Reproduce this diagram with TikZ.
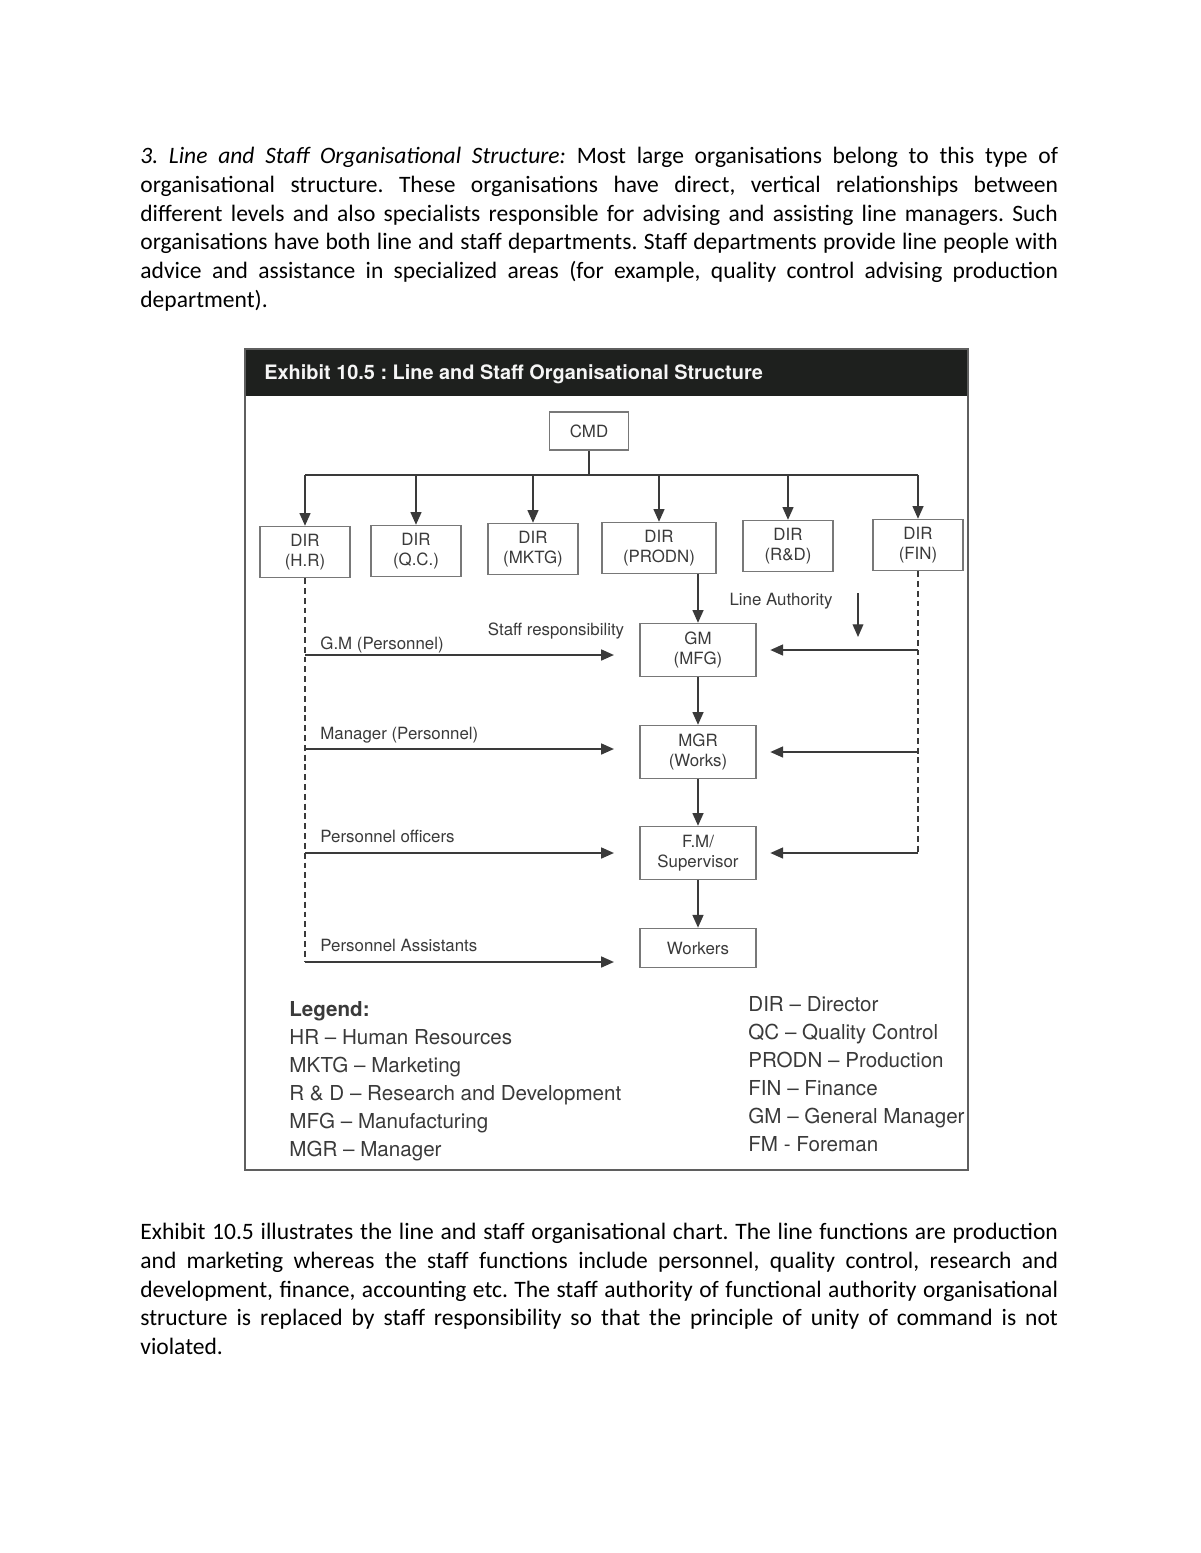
\documentclass[tikz,border=0pt]{standalone}
\usepackage{fontspec}
\setmainfont{Carlito}
\newfontfamily\exfont{TeX Gyre Heros}
\usetikzlibrary{arrows.meta,calc,positioning}
\definecolor{exink}{RGB}{58,58,58}
\definecolor{exedge}{RGB}{120,120,120}
\definecolor{exbar}{RGB}{30,32,30}
\definecolor{exframe}{RGB}{95,95,95}
\frenchspacing

\begin{document}
\begin{tikzpicture}[x=0.51pt, y=-0.51pt,
      org/.style={rectangle, draw=exedge, line width=0.7pt, fill=white, align=center, inner sep=1pt, text=exink, font=\exfont\fontsize{8.6}{10.2}\selectfont},
      dirbox/.style={org, minimum width=46pt, minimum height=26pt},
      chainbox/.style={org, minimum width=59pt, minimum height=27pt},
      lbl/.style={text=exink, inner sep=0pt, font=\exfont\fontsize{8.6}{10}\selectfont},
      legend/.style={anchor=north west, align=left, inner sep=0pt, text=exink, font=\exfont\fontsize{10.5}{14.3}\selectfont},
      para/.style={anchor=north west, text width=468pt, align=justify, inner sep=0pt, font=\fontsize{12}{14.65}\selectfont},
      arr/.style={-{Triangle[length=6.5pt, width=5.5pt]}, line width=1pt, color=exink},
      dashline/.style={dashed, dash pattern=on 3pt off 2pt, line width=0.6pt, color=exink}
    ]
      \useasboundingbox (0,0) rectangle (1200,1553);

      % Text above and below the exhibit
      \node[para] (intro) at (140,147) {\hyphenpenalty=10000\textit{3. Line and Staff Organisational Structure:} Most large organisations belong to this type of\linebreak organisational structure. These organisations have direct, vertical relationships between\linebreak different levels and also specialists responsible for advising and assisting line managers. Such\linebreak organisations have both line and staff departments. Staff departments provide line people with\linebreak advice and assistance in specialized areas (for example, quality control advising production\linebreak department).};
      \node[para] (outro) at (140,1223) {\hyphenpenalty=10000 Exhibit 10.5 illustrates the line and staff organisational chart. The line functions are production\linebreak and marketing whereas the staff functions include personnel, quality control, research and\linebreak development, finance, accounting etc. The staff authority of functional authority organisational\linebreak structure is replaced by staff responsibility so that the principle of unity of command is not\linebreak violated.};

      % Exhibit frame and title bar
      \fill[exbar] (245,349) rectangle (968,396);
      \draw[exframe, line width=1pt] (245,349) rectangle (968,1170);
      \node[anchor=west, inner sep=0pt, text=gray!8, font=\exfont\bfseries\fontsize{10.15}{12}\selectfont] (title) at (264,374) {Exhibit 10.5 : Line and Staff Organisational Structure};

      % Top: CMD and directors
      \node[org, minimum width=40pt, minimum height=19.5pt] (cmd) at (589,431) {CMD};
      \node[dirbox] (hr) at (305,552) {DIR\\(H.R)};
      \node[dirbox] (qc) at (416,551) {DIR\\(Q.C.)};
      \node[dirbox] (mktg) at (533,549) {DIR\\(MKTG)};
      \node[dirbox, minimum width=58pt] (prodn) at (659,548) {DIR\\(PRODN)};
      \node[dirbox] (rd) at (788,546) {DIR\\(R\&D)};
      \node[dirbox] (fin) at (918,545) {DIR\\(FIN)};

      \coordinate (bus) at (589,475);
      \draw[line width=1pt, exink] (cmd.south) -- (bus);
      \draw[line width=1pt, exink] (bus -| hr) -- (bus -| fin);
      \draw[arr] (bus -| hr) -- (hr.north);
      \draw[arr] (bus -| qc) -- (qc.north);
      \draw[arr] (bus -| mktg) -- (mktg.north);
      \draw[arr] (bus -| prodn) -- (prodn.north);
      \draw[arr] (bus -| rd) -- (rd.north);
      \draw[arr] (bus -| fin) -- (fin.north);

      % Centre: line of command
      \node[chainbox] (gm) at (698,650) {GM\\(MFG)};
      \node[chainbox] (mgr) at (698,752) {MGR\\(Works)};
      \node[chainbox] (fm) at (698,853) {F.M/\\Supervisor};
      \node[chainbox, minimum height=20pt] (work) at (698,948) {Workers};

      \draw[arr] (prodn.south -| gm) -- (gm.north);
      \draw[arr] (gm) -- (mgr);
      \draw[arr] (mgr) -- (fm);
      \draw[arr] (fm) -- (work);

      % Left: personnel staff
      \coordinate (s1) at (305,655);
      \coordinate (s2) at (305,749);
      \coordinate (s3) at (305,853);
      \coordinate (s4) at (305,962);
      \node[lbl, anchor=west] (gmp) at (320,645) {G.M (Personnel)};
      \node[lbl, anchor=west] (mgrp) at (320,735) {Manager (Personnel)};
      \node[lbl, anchor=west] (pof) at (320,836) {Personnel officers};
      \node[lbl, anchor=west] (pas) at (320,945) {Personnel Assistants};
      \node[lbl] (sresp) at (556,631) {Staff responsibility};

      \draw[dashline] (hr.south) -- (s4);
      \draw[arr, shorten >=13pt] (s1) -- (s1 -| gm.west);
      \draw[arr, shorten >=13pt] (s2) -- (s2 -| mgr.west);
      \draw[arr, shorten >=13pt] (s3) -- (s3 -| fm.west);
      \draw[arr, shorten >=13pt] (s4) -- (s4 -| work.west);

      % Right: finance line
      \node[lbl] (lauth) at (781,601) {Line Authority};
      \coordinate (la1) at (858,593);
      \coordinate (la2) at (858,637);
      \draw[arr, line width=0.7pt] (la1) -- (la2);

      \draw[dashline] (fin.south) -- (fin.south |- fm.east);
      \draw[arr, shorten >=7pt] (fin.south |- gm.east) -- (gm.east);
      \draw[arr, shorten >=7pt] (fin.south |- mgr.east) -- (mgr.east);
      \draw[arr, shorten >=7pt] (fin.south |- fm.east) -- (fm.east);

      % Legend
      \node[legend] (legl) at (289,1001) {\textbf{Legend:}\\HR – Human Resources\\MKTG – Marketing\\R \& D – Research and Development\\MFG – Manufacturing\\MGR – Manager};
      \node[legend] (legr) at (748,996) {DIR – Director\\QC – Quality Control\\PRODN – Production\\FIN – Finance\\GM – General Manager\\FM - Foreman};
    \end{tikzpicture}
\end{document}
